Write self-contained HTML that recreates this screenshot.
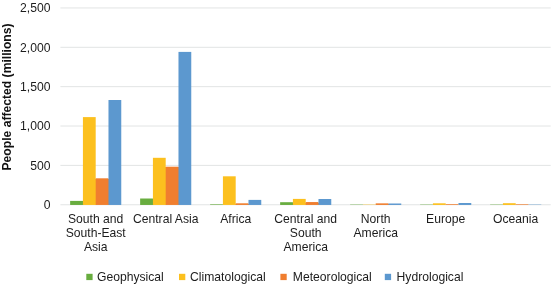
<!DOCTYPE html>
<html lang="en"><head><meta charset="utf-8"><title>People affected by disaster type</title>
<style>html,body{margin:0;padding:0;background:#fff}body{width:552px;height:285px;overflow:hidden}</style></head>
<body>
<svg width="552" height="285" viewBox="0 0 552 285" style="display:block">
<rect width="552" height="285" fill="#fff"/>
<line x1="60.4" x2="550.7" y1="204.75" y2="204.75" stroke="#e2e4e4" stroke-width="1"/>
<line x1="60.4" x2="550.7" y1="165.39" y2="165.39" stroke="#e2e4e4" stroke-width="1"/>
<line x1="60.4" x2="550.7" y1="126.03" y2="126.03" stroke="#e2e4e4" stroke-width="1"/>
<line x1="60.4" x2="550.7" y1="86.67" y2="86.67" stroke="#e2e4e4" stroke-width="1"/>
<line x1="60.4" x2="550.7" y1="47.31" y2="47.31" stroke="#e2e4e4" stroke-width="1"/>
<line x1="60.4" x2="550.7" y1="7.95" y2="7.95" stroke="#e2e4e4" stroke-width="1"/>
<rect x="70.14" y="200.90" width="12.78" height="0.10" fill="#68ad3f"/>
<rect x="70.14" y="201.00" width="13.78" height="3.95" fill="#68ad3f"/>
<rect x="82.92" y="117.10" width="12.78" height="61.90" fill="#fcc01e"/>
<rect x="82.92" y="179.00" width="13.78" height="25.95" fill="#fcc01e"/>
<rect x="95.70" y="178.30" width="12.78" height="0.70" fill="#f07e2f"/>
<rect x="95.70" y="179.00" width="13.78" height="25.95" fill="#f07e2f"/>
<rect x="108.48" y="100.00" width="12.78" height="104.95" fill="#5c98cf"/>
<rect x="140.14" y="198.50" width="12.78" height="0.50" fill="#68ad3f"/>
<rect x="140.14" y="199.00" width="13.78" height="5.95" fill="#68ad3f"/>
<rect x="152.92" y="157.80" width="12.78" height="9.20" fill="#fcc01e"/>
<rect x="152.92" y="167.00" width="13.78" height="37.95" fill="#fcc01e"/>
<rect x="165.70" y="166.70" width="12.78" height="0.30" fill="#f07e2f"/>
<rect x="165.70" y="167.00" width="13.78" height="37.95" fill="#f07e2f"/>
<rect x="178.48" y="51.90" width="12.78" height="153.05" fill="#5c98cf"/>
<rect x="210.14" y="204.35" width="12.78" height="0.60" fill="#68ad3f"/>
<rect x="222.92" y="176.30" width="12.78" height="27.70" fill="#fcc01e"/>
<rect x="222.92" y="204.00" width="13.78" height="0.95" fill="#fcc01e"/>
<rect x="235.70" y="203.30" width="12.78" height="0.70" fill="#f07e2f"/>
<rect x="235.70" y="204.00" width="13.78" height="0.95" fill="#f07e2f"/>
<rect x="248.48" y="199.90" width="12.78" height="5.05" fill="#5c98cf"/>
<rect x="280.14" y="202.20" width="12.78" height="0.80" fill="#68ad3f"/>
<rect x="280.14" y="203.00" width="13.78" height="1.95" fill="#68ad3f"/>
<rect x="292.92" y="198.90" width="12.78" height="4.10" fill="#fcc01e"/>
<rect x="292.92" y="203.00" width="13.78" height="1.95" fill="#fcc01e"/>
<rect x="305.70" y="202.05" width="12.78" height="0.95" fill="#f07e2f"/>
<rect x="305.70" y="203.00" width="13.78" height="1.95" fill="#f07e2f"/>
<rect x="318.48" y="199.00" width="12.78" height="5.95" fill="#5c98cf"/>
<rect x="350.14" y="204.60" width="12.78" height="0.35" fill="#68ad3f"/>
<rect x="362.92" y="204.62" width="12.78" height="0.33" fill="#fcc01e"/>
<rect x="375.70" y="203.35" width="12.78" height="0.65" fill="#f07e2f"/>
<rect x="375.70" y="204.00" width="13.78" height="0.95" fill="#f07e2f"/>
<rect x="388.48" y="203.50" width="12.78" height="1.45" fill="#5c98cf"/>
<rect x="420.14" y="204.60" width="12.78" height="0.35" fill="#68ad3f"/>
<rect x="432.92" y="203.30" width="12.78" height="1.65" fill="#fcc01e"/>
<rect x="445.70" y="204.20" width="12.78" height="0.75" fill="#f07e2f"/>
<rect x="458.48" y="203.00" width="12.78" height="1.95" fill="#5c98cf"/>
<rect x="490.14" y="204.60" width="12.78" height="0.35" fill="#68ad3f"/>
<rect x="502.92" y="203.20" width="12.78" height="1.75" fill="#fcc01e"/>
<rect x="515.70" y="204.30" width="12.78" height="0.65" fill="#f07e2f"/>
<rect x="528.48" y="204.60" width="12.78" height="0.35" fill="#5c98cf"/>
<g font-family="'Liberation Sans', Arial, sans-serif" font-size="12.15" fill="#1c1c1c">
<text x="50.4" y="209.00" text-anchor="end">0</text>
<text x="50.4" y="169.64" text-anchor="end">500</text>
<text x="50.4" y="130.28" text-anchor="end">1,000</text>
<text x="50.4" y="90.92" text-anchor="end">1,500</text>
<text x="50.4" y="51.56" text-anchor="end">2,000</text>
<text x="50.4" y="12.20" text-anchor="end">2,500</text>
<text x="95.70" y="223.00" text-anchor="middle">South and</text>
<text x="95.70" y="237.00" text-anchor="middle">South-East</text>
<text x="95.70" y="251.00" text-anchor="middle">Asia</text>
<text x="165.70" y="223.00" text-anchor="middle">Central Asia</text>
<text x="235.70" y="223.00" text-anchor="middle">Africa</text>
<text x="305.70" y="223.00" text-anchor="middle">Central and</text>
<text x="305.70" y="237.00" text-anchor="middle">South</text>
<text x="305.70" y="251.00" text-anchor="middle">America</text>
<text x="375.70" y="223.00" text-anchor="middle">North</text>
<text x="375.70" y="237.00" text-anchor="middle">America</text>
<text x="445.70" y="223.00" text-anchor="middle">Europe</text>
<text x="515.70" y="223.00" text-anchor="middle">Oceania</text>
<rect x="86.3" y="273.8" width="6.3" height="6.3" fill="#68ad3f"/>
<text x="97.0" y="280.5">Geophysical</text>
<rect x="179.0" y="273.8" width="6.3" height="6.3" fill="#fcc01e"/>
<text x="190.1" y="280.5">Climatological</text>
<rect x="280.4" y="273.8" width="6.3" height="6.3" fill="#f07e2f"/>
<text x="292.85" y="280.5">Meteorological</text>
<rect x="384.8" y="273.8" width="6.3" height="6.3" fill="#5c98cf"/>
<text x="396.55" y="280.5">Hydrological</text>
</g>
<text transform="translate(10.5,170.5) rotate(-90)" font-family="'Liberation Sans', Arial, sans-serif" font-size="12.15" font-weight="bold" fill="#111">People affected (millions)</text>
</svg>
</body></html>
